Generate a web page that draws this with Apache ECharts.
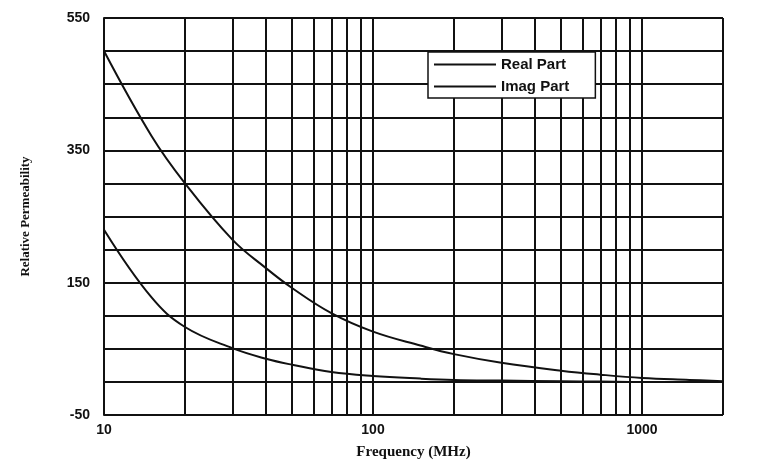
<!DOCTYPE html>
<html>
<head>
<meta charset="utf-8">
<script src="https://cdn.jsdelivr.net/npm/echarts@6/dist/echarts.min.js"></script>
<style>
  html, body { margin: 0; padding: 0; background: #fff; }
  #chart { width: 760px; height: 469px; }
</style>
</head>
<body>
<div id="chart"></div>
<script>
// data
const freq = [10, 15, 20, 30, 40, 50, 70, 100, 150, 200, 300, 500, 700, 1000, 1500, 2000];
const realPart = [500, 372, 300, 215, 172, 142, 104, 76, 55, 42, 29, 17, 11, 6, 3, 1];
const imagPart = [230, 128, 83, 51, 35, 26, 15, 9, 5, 3, 2, 1, 0.5, 0, 0, 0];
const yTickLabels = [-50, 150, 350, 550];
// vertical grid lines of the log paper
const xGrid = [20, 30, 40, 50, 60, 70, 80, 90, 100, 200, 300, 400, 500, 600, 700, 800, 900, 1000, 2000];
const xTickLabels = [10, 100, 1000];

const chart = echarts.init(document.getElementById('chart'));

const pair = (ys) => freq.map((f, k) => [f, ys[k]]);
const lineStyle = { color: '#111', width: 2 };

chart.setOption({
  animation: false,
  grid: { left: 104, right: 37, top: 18, bottom: 54 },
  legend: {
    orient: 'vertical',
    left: 428,
    top: 52,
    z: 20,
    itemWidth: 62,
    itemHeight: 2,
    itemGap: 7,
    padding: [5, 26, 4, 6],
    borderColor: '#111',
    borderWidth: 1.5,
    backgroundColor: '#fff',
    icon: 'rect',
    textStyle: { fontFamily: 'Liberation Sans', fontWeight: 'bold', fontSize: 15, color: '#111' },
    data: ['Real Part', 'Imag Part'],
  },
  xAxis: {
    type: 'log',
    logBase: 10,
    min: 10,
    max: 2000,
    name: 'Frequency (MHz)',
    nameLocation: 'middle',
    nameGap: 30,
    nameTextStyle: { fontFamily: 'Liberation Serif', fontWeight: 'bold', fontSize: 15, color: '#111' },
    axisLine: { lineStyle: { color: '#111', width: 2 } },
    axisTick: { show: false },
    splitLine: { show: false },
    axisLabel: {
      fontFamily: 'Liberation Sans', fontWeight: 'bold', fontSize: 14, color: '#111', margin: 8,
      formatter: (v) => (xTickLabels.includes(Math.round(v)) ? String(Math.round(v)) : ''),
    },
  },
  yAxis: {
    type: 'value',
    min: -50,
    max: 550,
    interval: 50,
    name: 'Relative Permeability',
    nameLocation: 'middle',
    nameGap: 72,
    nameTextStyle: { fontFamily: 'Liberation Serif', fontWeight: 'bold', fontSize: 13, color: '#111' },
    axisLine: { show: true, lineStyle: { color: '#111', width: 2 } },
    axisTick: { show: false },
    splitLine: { lineStyle: { color: '#111', width: 2 } },
    axisLabel: {
      fontFamily: 'Liberation Sans', fontWeight: 'bold', fontSize: 14, color: '#111', margin: 14,
      formatter: (v) => (yTickLabels.includes(v) ? String(v) : ''),
    },
  },
  series: [
    {
      name: 'Real Part',
      type: 'line',
      smooth: 0.4,
      symbol: 'none',
      data: pair(realPart),
      lineStyle,
      itemStyle: { color: '#111' },
      z: 3,
      markLine: {
        silent: true,
        symbol: 'none',
        label: { show: false },
        lineStyle: { color: '#111', width: 2, type: 'solid' },
        data: xGrid.map((x) => ({ xAxis: x })),
      },
    },
    {
      name: 'Imag Part',
      type: 'line',
      smooth: 0.4,
      symbol: 'none',
      data: pair(imagPart),
      lineStyle,
      itemStyle: { color: '#111' },
      z: 3,
    },
  ],
});
</script>
</body>
</html>
